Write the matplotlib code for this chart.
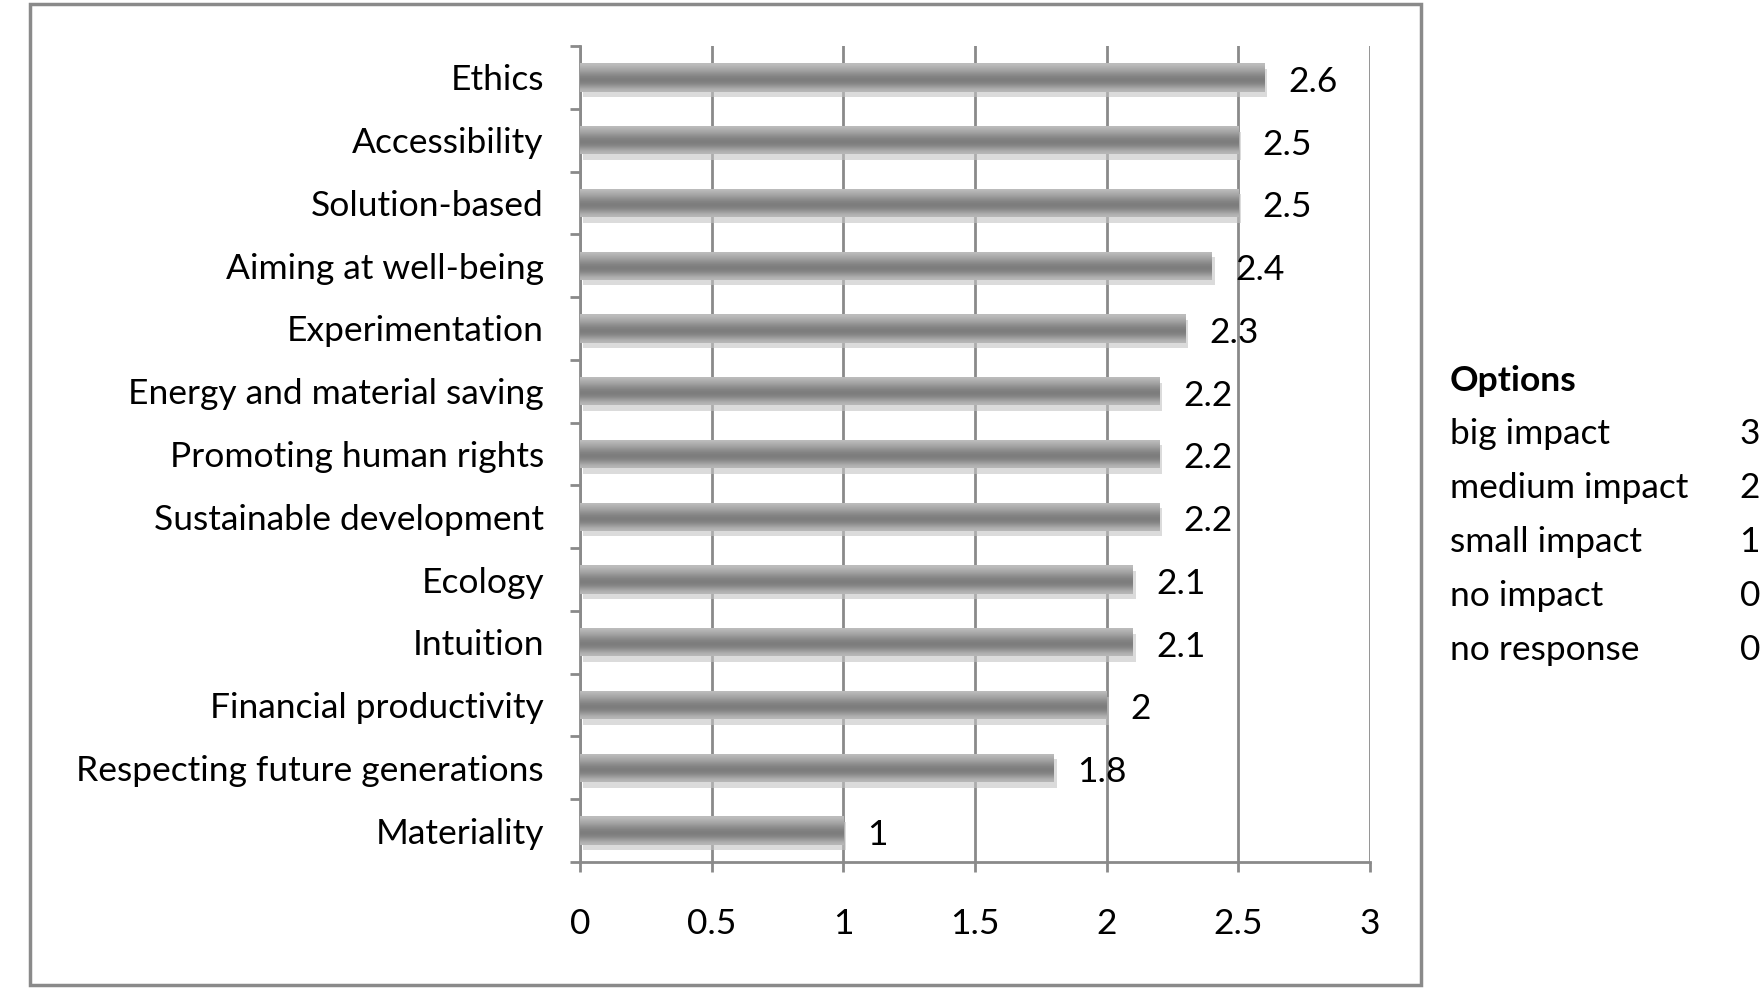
import numpy as np
import matplotlib
matplotlib.use("Agg")
import matplotlib.pyplot as plt
from matplotlib.patches import Rectangle
import matplotlib.patheffects as pe

plt.rcParams['font.family'] = ['Lato', 'DejaVu Sans']

categories = ["Ethics", "Accessibility", "Solution-based", "Aiming at well-being",
              "Experimentation", "Energy and material saving", "Promoting human rights",
              "Sustainable development", "Ecology", "Intuition", "Financial productivity",
              "Respecting future generations", "Materiality"]
values = [2.6, 2.5, 2.5, 2.4, 2.3, 2.2, 2.2, 2.2, 2.1, 2.1, 2.0, 1.8, 1.0]
x_ticks = [0, 0.5, 1, 1.5, 2, 2.5, 3]
x_tick_labels = ["0", "0.5", "1", "1.5", "2", "2.5", "3"]
option_labels = ["big impact", "medium impact", "small impact", "no impact", "no response"]
option_values = [3, 2, 1, 0, 0]
legend_title = "Options"

FS = 25.5
W, H = 1765, 1000
fig = plt.figure(figsize=(W / 100, H / 100), dpi=100)
fig.patch.set_facecolor("white")

ax = fig.add_axes([580 / W, 1 - 862 / H, (1370 - 580) / W, (862 - 46) / H])
n = len(categories)
ypos = np.arange(n)[::-1]

grey = "#8a8a8a"
ax.set_xlim(0, 3)
ax.set_ylim(-0.5, n - 0.5)
ax.set_xticks(x_ticks)
ax.set_xticklabels(x_tick_labels)
ax.xaxis.grid(True, color=grey, linewidth=2)
ax.set_axisbelow(True)
for s in ["top", "right"]:
    ax.spines[s].set_visible(False)
for s in ["left", "bottom"]:
    ax.spines[s].set_color(grey)
    ax.spines[s].set_linewidth(2)

ax.set_yticks(ypos)
ax.set_yticklabels(categories, va="center_baseline")
ax.set_yticks(np.arange(-0.5, n, 1), minor=True)
ax.tick_params(axis="y", which="major", length=0, pad=26, labelsize=FS)
ax.tick_params(axis="y", which="minor", length=7, width=2, color=grey, direction="out")
ax.tick_params(axis="x", which="major", length=7, width=2, color=grey, pad=26, labelsize=FS)

bars = ax.barh(ypos, values, height=0.45, color="#9a9a9a", zorder=3,
               path_effects=[pe.SimplePatchShadow(offset=(2, -4), shadow_rgbFace="#c4c4c4", alpha=0.6),
                             pe.Normal()])

# vertical gradient inside each bar (bottom -> top)
grad = np.array([0.72, 0.62, 0.53, 0.48, 0.50, 0.55, 0.62, 0.68, 0.74]).reshape(-1, 1)
for b in bars:
    x0, y0, w, h = b.get_x(), b.get_y(), b.get_width(), b.get_height()
    im = ax.imshow(grad, cmap="gray", vmin=0, vmax=1, aspect="auto",
                   extent=(x0, x0 + w, y0, y0 + h), origin="lower",
                   interpolation="bicubic", zorder=4)
    im.set_clip_path(b)

ax.set_xlim(0, 3)
ax.set_ylim(-0.5, n - 0.5)

for y, v in zip(ypos, values):
    ax.annotate(f"{v:g}", xy=(v, y), xytext=(17, -1), textcoords="offset points",
                va="center_baseline", ha="left", fontsize=FS, zorder=5)

# outer frame
fig.patches.append(Rectangle((30 / W, 1 - 985 / H), (1421 - 30) / W, (985 - 4) / H,
                             transform=fig.transFigure, fill=False,
                             edgecolor=grey, linewidth=2.5))

# options table
fig.text(1450 / W, 1 - 378 / H, legend_title, fontsize=FS, fontweight="bold",
         ha="left", va="center_baseline")
row_y = 431
for lab, val in zip(option_labels, option_values):
    fig.text(1450 / W, 1 - row_y / H, lab, fontsize=FS, ha="left", va="center_baseline")
    fig.text(1760 / W, 1 - row_y / H, str(val), fontsize=FS, ha="right", va="center_baseline")
    row_y += 54.0

fig.savefig("out.png", dpi=100)
